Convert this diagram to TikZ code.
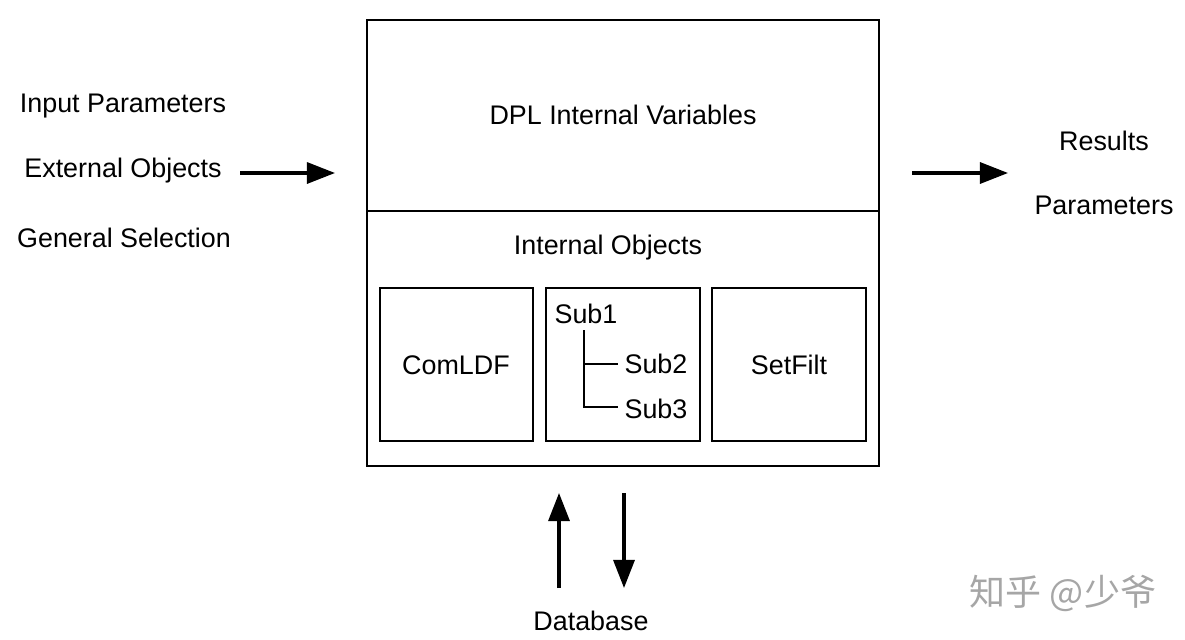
\documentclass[tikz,border=0pt]{standalone}
\usepackage{fontspec}
\setmainfont{Liberation Sans}
\newfontfamily\cjk{Noto Sans CJK SC}
\usetikzlibrary{arrows.meta}
\begin{document}
\begin{tikzpicture}[x=0.02cm,y=-0.02cm,
 box/.style={draw,line width=0.8pt},
 lbl/.style={font=\fontsize{15.3}{17}\selectfont,inner sep=0pt},
 arr/.style={line width=1.8pt,-{Triangle[length=16pt,width=12pt]}}]
\useasboundingbox (0,0) rectangle (1185,639);
\draw[box] (367,20) rectangle (879,466);
\draw[box] (367,211) -- (879,211);
\draw[box] (380,288) rectangle (533,441);
\draw[box] (546,288) rectangle (700,441);
\draw[box] (712,288) rectangle (866,441);
\node[lbl] (inp) at (123,106) {Input Parameters};
\node[lbl] (ext) at (123,171) {External Objects};
\node[lbl] (gen) at (124,238) {General Selection};
\node[lbl] (res) at (1104,141) {Results};
\node[lbl] (par) at (1104,205) {Parameters};
\node[lbl] (dpl) at (623,115) {DPL Internal Variables};
\node[lbl] (io) at (608,248) {Internal Objects};
\node[lbl] (com) at (456,365) {ComLDF};
\node[lbl] (set) at (789,365) {SetFilt};
\node[lbl] (s1) at (586,314) {Sub1};
\node[lbl] (s2) at (656,364) {Sub2};
\node[lbl] (s3) at (656,409) {Sub3};
\node[lbl] (db) at (591,621) {Database};
\node[font=\cjk\fontsize{20.5}{24}\selectfont,text=gray!70,inner sep=0pt] (wm) at (1063,593) {知乎 @少爷};
\draw[line width=0.8pt] (584,330) -- (584,407) -- (618,407) (584,364) -- (618,364);
\coordinate (a1) at (240,173); \coordinate (a2) at (335,173);
\coordinate (b1) at (912,173); \coordinate (b2) at (1008,173);
\coordinate (c1) at (559,588); \coordinate (c2) at (559,493);
\coordinate (d1) at (624,493); \coordinate (d2) at (624,588);
\draw[arr] (a1) -- (a2);
\draw[arr] (b1) -- (b2);
\draw[arr] (c1) -- (c2);
\draw[arr] (d1) -- (d2);
\end{tikzpicture}
\end{document}
